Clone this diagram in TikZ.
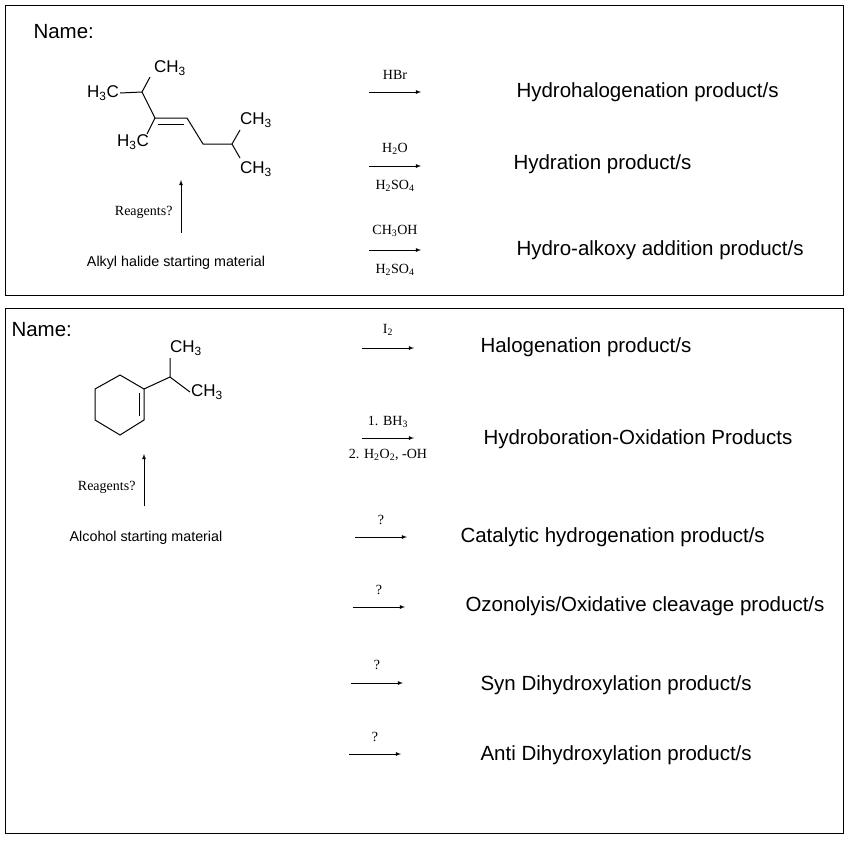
\documentclass[tikz,border=0pt]{standalone}
\usepackage{fontspec}
\setmainfont{Liberation Sans}
\newfontfamily\serifr{Liberation Serif}
\begin{document}
\begin{tikzpicture}[x=1pt,y=-1pt,
  lbl/.style={font=\fontsize{20.5}{24}\selectfont},
  big/.style={font=\fontsize{20.5}{24}\selectfont, anchor=west},
  chem/.style={font=\fontsize{17}{19}\selectfont, inner sep=1pt},
  small/.style={font=\fontsize{14.3}{17}\selectfont},
  rg/.style={font=\serifr\fontsize{14}{16}\selectfont},
  bond/.style={line width=1pt},
  rarr/.style={-latex, line width=0.8pt}]
\useasboundingbox (0,0) rectangle (854,844);
\draw[line width=1pt] (5,5) rectangle (843,295);
\draw[line width=1pt] (5,308) rectangle (843,833);
\node[lbl, anchor=west] (n1) at (30,32) {Name:};
\node[lbl, anchor=west] (n2) at (8,330) {Name:};
% top molecule
\coordinate (c1) at (142,92); \coordinate (c2) at (155,118);
\coordinate (c3) at (187,118); \coordinate (c4) at (203,144);
\coordinate (c5) at (232,144);
\node[chem] (m1) at (170,68) {CH\textsubscript{3}};
\node[chem] (m2) at (103,93) {H\textsubscript{3}C};
\node[chem] (m3) at (133,142) {H\textsubscript{3}C};
\node[chem] (m4) at (256,120) {CH\textsubscript{3}};
\node[chem] (m5) at (256,169) {CH\textsubscript{3}};
\draw[bond] (m2.east) -- (c1) -- (150,77);
\draw[bond] (c1) -- (c2) -- (c3) -- (c4) -- (c5);
\draw[bond] (158,124) -- (184,124);
\draw[bond] (c2) -- (147,134);
\draw[bond] (c5) -- (240,130);
\draw[bond] (c5) -- (240,158);
\coordinate (ra) at (181,233); \coordinate (rb) at (181,180);
\draw[rarr] (ra) -- (rb);
\node[rg, anchor=east] (rq1) at (176,212) {Reagents?};
\node[small] (s1) at (176,263) {Alkyl halide starting material};
% top arrows
\coordinate (a1) at (369,92); \coordinate (b1) at (421,92);
\draw[rarr] (a1) -- (b1);
\node[rg] (h1) at (395,75) {HBr};
\coordinate (a2) at (369,166); \coordinate (b2) at (421,166);
\draw[rarr] (a2) -- (b2);
\node[rg] (h2) at (395,149) {H\textsubscript{2}O};
\node[rg] (h3) at (395,186) {H\textsubscript{2}SO\textsubscript{4}};
\coordinate (a3) at (369,250); \coordinate (b3) at (421,250);
\draw[rarr] (a3) -- (b3);
\node[rg] (h4) at (395,231) {CH\textsubscript{3}OH};
\node[rg] (h5) at (395,270) {H\textsubscript{2}SO\textsubscript{4}};
\node[big] (p1) at (513,92) {Hydrohalogenation product/s};
\node[big] (p2) at (510,164) {Hydration product/s};
\node[big] (p3) at (513,250) {Hydro-alkoxy addition product/s};
% cyclohexene
\coordinate (r1) at (120,375); \coordinate (r2) at (144,389);
\coordinate (r3) at (144,420); \coordinate (r4) at (120,435);
\coordinate (r5) at (95,420); \coordinate (r6) at (95,389);
\draw[bond] (r1) -- (r2) -- (r3) -- (r4) -- (r5) -- (r6) -- cycle;
\draw[bond] (139,393) -- (139,416);
\coordinate (ip) at (170,377);
\node[chem] (m6) at (186,348) {CH\textsubscript{3}};
\node[chem] (m7) at (207,392) {CH\textsubscript{3}};
\draw[bond] (r2) -- (ip) -- (170,358);
\draw[bond] (ip) -- (m7.west);
\coordinate (rc) at (144,506); \coordinate (rd) at (144,454);
\draw[rarr] (rc) -- (rd);
\node[rg, anchor=east] (rq2) at (139,487) {Reagents?};
\node[small] (s2) at (146,538) {Alcohol starting material};
% bottom arrows
\coordinate (a4) at (362,348); \coordinate (b4) at (414,348);
\draw[rarr] (a4) -- (b4);
\node[rg] (i1) at (388,330) {I\textsubscript{2}};
\coordinate (a5) at (362,438); \coordinate (b5) at (414,438);
\draw[rarr] (a5) -- (b5);
\node[rg] (i2) at (388,422) {1. BH\textsubscript{3}};
\node[rg] (i3) at (388,455) {2. H\textsubscript{2}O\textsubscript{2}, -OH};
\coordinate (a6) at (355,537); \coordinate (b6) at (407,537);
\draw[rarr] (a6) -- (b6); \node[rg] (q1) at (381,520) {?};
\coordinate (a7) at (353,607); \coordinate (b7) at (405,607);
\draw[rarr] (a7) -- (b7); \node[rg] (q2) at (379,590) {?};
\coordinate (a8) at (351,683); \coordinate (b8) at (403,683);
\draw[rarr] (a8) -- (b8); \node[rg] (q3) at (377,665) {?};
\coordinate (a9) at (349,754); \coordinate (b9) at (401,754);
\draw[rarr] (a9) -- (b9); \node[rg] (q4) at (375,737) {?};
\node[big] (p4) at (477,347) {Halogenation product/s};
\node[big] (p5) at (480,439) {Hydroboration-Oxidation Products};
\node[big] (p6) at (457,537) {Catalytic hydrogenation product/s};
\node[big] (p7) at (462,606) {Ozonolyis/Oxidative cleavage product/s};
\node[big] (p8) at (477,685) {Syn Dihydroxylation product/s};
\node[big] (p9) at (477,755) {Anti Dihydroxylation product/s};
\end{tikzpicture}
\end{document}
